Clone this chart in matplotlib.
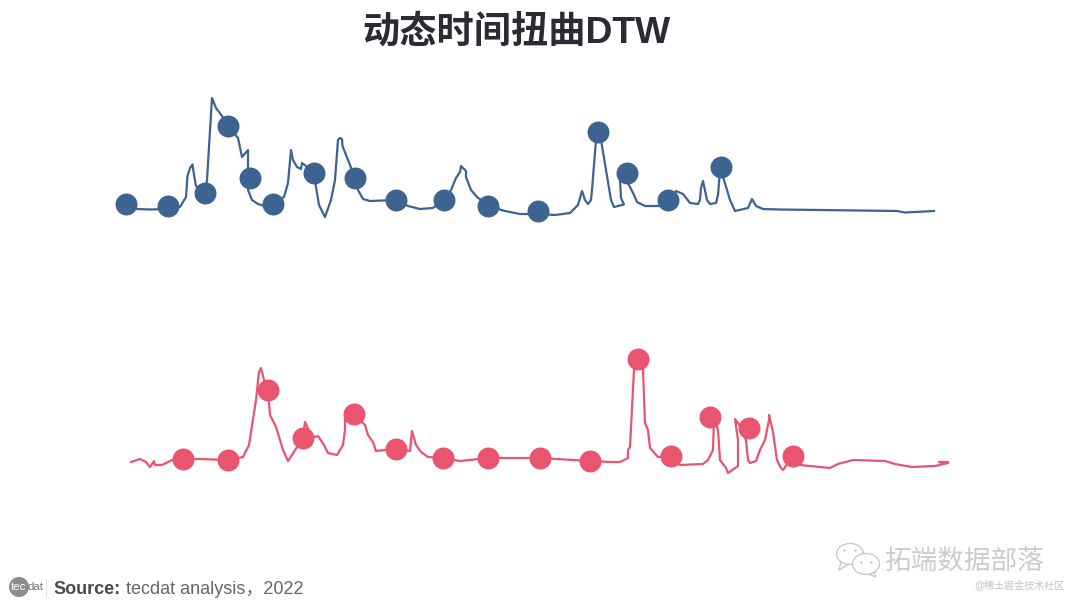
import matplotlib
matplotlib.use('Agg')
import matplotlib.pyplot as plt
from matplotlib.patches import Ellipse, Circle

plt.rcParams['font.family'] = ['Liberation Sans', 'Noto Sans CJK SC', 'DejaVu Sans']

# series (picture pixels)
blue_x = [126, 137, 150, 168, 180, 186, 187.5, 190, 192.5, 194, 196, 205, 207, 212, 216, 222, 228, 238, 242, 248, 248, 250, 248, 252, 258, 263, 273,
          284, 288, 291, 293, 297, 301, 302, 306, 314, 316, 319, 325, 331, 335, 338, 340, 342, 342.5, 350, 355, 358, 363, 370, 396, 408, 420, 433, 444,
          451, 456, 460, 461, 466, 466, 471, 477, 488, 505, 520, 538, 555, 570, 578, 582, 585, 588, 591, 592, 594, 596, 598, 601, 611, 614, 624, 621, 620, 627,
          628, 634, 637, 645, 668, 676, 683, 690, 698, 700, 701, 703, 707, 710, 716, 718, 720, 721, 724, 730, 735, 748, 752, 756, 763, 780, 897, 905, 934]
blue_y = [204, 209, 209.5, 209, 207, 197, 176, 168, 164.5, 175, 186, 193, 180, 98, 108, 116, 126, 138, 157, 150, 170, 178, 190, 200, 204, 205.5, 204,
          197, 183, 150, 160, 167, 169, 163, 166, 173, 187, 205, 217, 200, 180, 140, 138, 139, 146, 165, 178, 190, 199, 201, 200, 206, 209, 208, 200,
          190, 178, 172, 166, 171, 177, 190, 197, 206, 211, 214, 214, 215, 213, 205, 191, 200, 204, 200, 190, 165, 140, 132, 140, 200, 207, 204.5, 198, 180, 173,
          183, 195, 202, 206, 206, 191, 194, 203, 204, 200, 188, 181, 200, 204, 203, 195, 170, 167, 180, 200, 211, 208, 199, 206, 209, 209.5, 211, 212.5, 211]
blue_dots_x = [126, 168, 205, 228, 250, 273, 314, 355, 396, 444, 488, 538, 598, 627, 668, 721]
blue_dots_y = [204, 206, 193, 126, 178, 204, 173, 178, 200, 200, 206, 211, 132, 173, 200, 167]

red_x = [131, 140, 146, 150, 154, 155, 162, 172, 183, 200, 228, 243, 249, 256, 259, 261, 264, 268, 270, 276, 280, 283, 288, 303, 305, 311, 315, 318, 324, 328, 337,
         343, 345, 345, 354, 365, 368, 373, 376, 385, 396, 410, 412, 416, 421, 428, 443, 460, 488, 540, 590, 610, 620, 628, 628, 630, 634, 638, 643, 645, 648, 650, 658, 671,
         680, 703, 708, 713, 714, 718, 720, 726, 728, 738, 738, 735, 740, 746, 748, 750, 756, 760, 765, 769, 769, 773, 777, 781, 783, 793, 800, 830, 838, 853, 885, 895, 912, 935, 948, 939, 948]
red_y = [462, 459, 462, 467, 461, 465, 465, 460, 459, 459, 460, 457, 445, 400, 372, 368, 380, 390, 415, 427, 440, 450, 461, 438, 422, 435, 437, 436, 445, 453, 455,
         445, 430, 415, 414, 425, 435, 442, 451, 450, 449, 451, 431, 445, 452, 457, 458, 461, 458, 458, 461, 462, 462, 458, 450, 447, 370, 359, 370, 423, 430, 448, 457, 456,
         465, 464, 460, 450, 418, 430, 460, 468, 473, 466, 440, 419, 426, 440, 460, 463, 461, 450, 440, 420, 415, 432, 460, 468, 470, 456, 465, 468, 464, 460, 461, 464, 467, 466, 463, 462, 462]
red_dots_x = [183, 228, 268, 303, 354, 396, 443, 488, 540, 590, 638, 671, 710, 749, 793]
red_dots_y = [459, 460, 390, 438, 414, 449, 458, 458, 458, 461, 359, 456, 417, 428, 456]

blue = '#3d6390'
red = '#e9546f'

fig = plt.figure(figsize=(10.8, 6.08), dpi=100)
ax = fig.add_axes([0, 0, 1, 1])
ax.set_xlim(0, 1080)
ax.set_ylim(608, 0)
ax.axis('off')

ax.plot(blue_x, blue_y, color=blue, lw=1.6, solid_joinstyle='round')
ax.scatter(blue_dots_x, blue_dots_y, s=250, color=blue, zorder=3, linewidths=0)
ax.plot(red_x, red_y, color=red, lw=1.6, solid_joinstyle='round')
ax.scatter(red_dots_x, red_dots_y, s=250, color=red, zorder=3, linewidths=0)

ax.text(516, 33, '动态时间扭曲DTW', fontsize=26.8, fontweight='bold', color='#2b2b33', ha='center', va='center')

# footer with logo
ax.add_patch(Circle((19, 587), 10, color='#8c8c8c', lw=0))
ax.text(11, 587, 'tec', fontsize=8.2, color='white', va='center')
ax.text(28, 587, 'dat', fontsize=8.2, color='#777777', va='center')
ax.plot([46, 46], [579, 596], color='#e2e2e2', lw=0.8)
ax.text(53, 589, 'Source:', fontsize=13, fontweight='bold', color='#4a4a4a', va='center')
ax.text(126, 589, 'tecdat analysis，2022', fontsize=13, color='#666666', va='center')

# watermark
for xy, w, h, tail in [((850, 554), 27, 21, [(841, 562), (839, 570), (849, 564)]),
                       ((866, 564), 27, 21, [(874, 572), (876, 577), (868, 574)])]:
    ax.add_patch(Ellipse(xy, w, h, fc='white', ec='#c4c4c4', lw=0.9, zorder=2))
    ax.plot(*zip(*tail), color='#c4c4c4', lw=0.9, zorder=2)
ax.scatter([844, 855, 861, 871], [550, 550, 562, 562], s=3, color='#c4c4c4', zorder=3, linewidths=0)
ax.text(884, 562, '拓端数据部落', fontsize=19.2, color='#cccccc', va='center')
ax.text(974, 586, '@稀土掘金技术社区', fontsize=7.2, color='#c4c4c4', va='center')

fig.savefig('out.png', dpi=100)
